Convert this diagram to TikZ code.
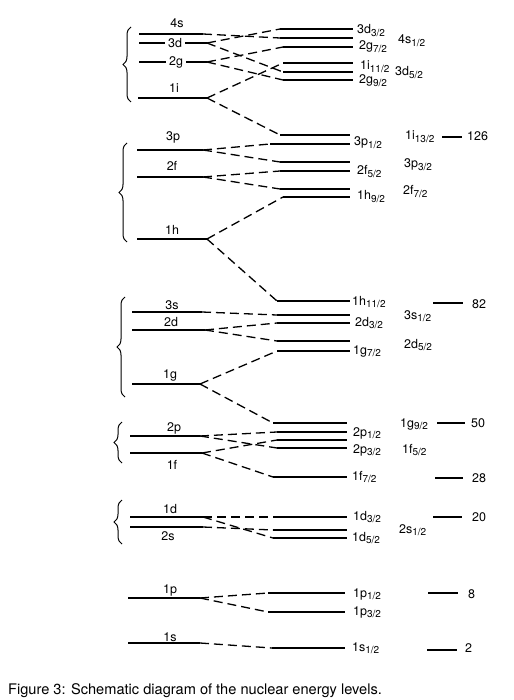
\documentclass[tikz,border=0pt]{standalone}
\usepackage{fontspec}
\setmainfont{TeX Gyre Heros}
\usetikzlibrary{decorations.pathreplacing}
\newcommand\jsub[1]{\raisebox{-2.6pt}{\fontsize{10}{11}\selectfont #1}}
\begin{document}
\begin{tikzpicture}[x=1pt,y=-1pt,
  level/.style={line width=1.5pt},
  split/.style={line width=1.3pt, dash pattern=on 9pt off 5pt},
  grp/.style={line width=1pt, decorate, decoration={brace, amplitude=8pt}},
  orb/.style={font=\fontsize{12.5}{15}\selectfont, inner sep=0pt, anchor=base},
  jlabel/.style={orb, anchor=base west},
  magic/.style={orb, anchor=base west}]
\useasboundingbox (0,0) rectangle (513,700);
% shells without spin-orbit
\draw[level] (139,34) coordinate (a4s) -- (203,34) coordinate (l4s);
\draw[level] (139,43) coordinate (a3d) -- (207,43) coordinate (l3d);
\draw[level] (139,62) coordinate (a2g) -- (207,62) coordinate (l2g);
\draw[level] (138,98) coordinate (a1i) -- (207,98) coordinate (l1i);
\draw[level] (137,150) coordinate (a3p) -- (203,150) coordinate (l3p);
\draw[level] (137,177) coordinate (a2f) -- (203,177) coordinate (l2f);
\draw[level] (137,239) coordinate (a1h) -- (207,239) coordinate (l1h);
\draw[level] (132,312) coordinate (a3s) -- (202,312) coordinate (l3s);
\draw[level] (132,330) coordinate (a2d) -- (205,330) coordinate (l2d);
\draw[level] (132,384) coordinate (a1g) -- (200,384) coordinate (l1g);
\draw[level] (130,436) coordinate (a2p) -- (200,436) coordinate (l2p);
\draw[level] (130,453) coordinate (a1f) -- (202,453) coordinate (l1f);
\draw[level] (130,517) coordinate (a1d) -- (203,517) coordinate (l1d);
\draw[level] (130,527) coordinate (a2s) -- (203,527) coordinate (l2s);
\draw[level] (128,598) coordinate (a1p) -- (200,598) coordinate (l1p);
\draw[level] (128,643) coordinate (a1s) -- (200,643) coordinate (l1s);
\node[orb] (t4s) at (177,28) {4s};
\node[orb, fill=white, inner xsep=3pt, inner ysep=1pt] (t3d) at (175,47.5) {3d};
\node[orb, fill=white, inner xsep=3pt, inner ysep=1pt] (t2g) at (176,65.5) {2g};
\node[orb] (t1i) at (174,93) {1i};
\node[orb] (t3p) at (173,141) {3p};
\node[orb] (t2f) at (172,171) {2f};
\node[orb] (t1h) at (172,235) {1h};
\node[orb] (t3s) at (172,309) {3s};
\node[orb] (t2d) at (171,326) {2d};
\node[orb] (t1g) at (170,378) {1g};
\node[orb] (t2p) at (174,431) {2p};
\node[orb] (t1f) at (172,469) {1f};
\node[orb] (t1d) at (170,513) {1d};
\node[orb] (t2s) at (168,540) {2s};
\node[orb] (t1p) at (170,593) {1p};
\node[orb] (t1s) at (170,641) {1s};
% groups
\draw[grp] (131,102) -- (131,27);
\draw[grp] (127,242) -- (127,143);
\draw[grp] (125,397) -- (125,297);
\draw[grp] (122,463) -- (122,422);
\draw[grp] (122,544) -- (122,500);
% split levels
\draw[level] (280,29) coordinate (r3d3) -- (353,29);
\draw[level] (280,38) coordinate (r4s1) -- (353,38);
\draw[level] (283,47) coordinate (r2g7) -- (353,47);
\draw[level] (283,63) coordinate (r1i11) -- (353,63);
\draw[level] (283,72) coordinate (r3d5) -- (353,72);
\draw[level] (283,80) coordinate (r2g9) -- (353,80);
\draw[level] (280,135) coordinate (r1i13) -- (350,135);
\draw[level] (270,144) coordinate (r3p1) -- (350,144);
\draw[level] (280,162) coordinate (r3p3) -- (350,162);
\draw[level] (280,171) coordinate (r2f5) -- (350,171);
\draw[level] (280,189) coordinate (r2f7) -- (350,189);
\draw[level] (283,197) coordinate (r1h9) -- (350,197);
\draw[level] (277,301) coordinate (r1h11) -- (350,301);
\draw[level] (277,315) coordinate (r3s1) -- (350,315);
\draw[level] (277,323) coordinate (r2d3) -- (350,323);
\draw[level] (277,341) coordinate (r2d5) -- (350,341);
\draw[level] (277,351) coordinate (r1g7) -- (350,351);
\draw[level] (273,423) coordinate (r1g9) -- (347,423);
\draw[level] (277,432) coordinate (r2p1) -- (347,432);
\draw[level] (277,440) coordinate (r1f5) -- (347,440);
\draw[level] (277,448) coordinate (r2p3) -- (347,448);
\draw[level] (273,477) coordinate (r1f7) -- (347,477);
\draw[level] (273,517) coordinate (r1d3) -- (347,517);
\draw[level] (273,530) coordinate (r2s1) -- (347,530);
\draw[level] (273,538) coordinate (r1d5) -- (347,538);
\draw[level] (268,593) coordinate (r1p1) -- (345,593);
\draw[level] (268,612) coordinate (r1p3) -- (345,612);
\draw[level] (272,648) coordinate (r1s1) -- (345,648);
\node[jlabel] (s3d3) at (357,34) {3d\jsub{3/2}};
\node[jlabel] (s4s1) at (398,44) {4s\jsub{1/2}};
\node[jlabel] (s2g7) at (359,50) {2g\jsub{7/2}};
\node[jlabel] (s1i11) at (360,70) {1i\jsub{11/2}};
\node[jlabel] (s3d5) at (395,76) {3d\jsub{5/2}};
\node[jlabel] (s2g9) at (359,84) {2g\jsub{9/2}};
\node[jlabel] (s1i13) at (405,140) {1i\jsub{13/2}};
\node[jlabel] (s3p1) at (354,146) {3p\jsub{1/2}};
\node[jlabel] (s3p3) at (404,168) {3p\jsub{3/2}};
\node[jlabel] (s2f5) at (357,175) {2f\jsub{5/2}};
\node[jlabel] (s2f7) at (403,195) {2f\jsub{7/2}};
\node[jlabel] (s1h9) at (357,200) {1h\jsub{9/2}};
\node[jlabel] (s1h11) at (352,305) {1h\jsub{11/2}};
\node[jlabel] (s3s1) at (404,319) {3s\jsub{1/2}};
\node[jlabel] (s2d3) at (355,326) {2d\jsub{3/2}};
\node[jlabel] (s2d5) at (404,348) {2d\jsub{5/2}};
\node[jlabel] (s1g7) at (353,354) {1g\jsub{7/2}};
\node[jlabel] (s1g9) at (400,427) {1g\jsub{9/2}};
\node[jlabel] (s2p1) at (353,436) {2p\jsub{1/2}};
\node[jlabel] (s1f5) at (402,453) {1f\jsub{5/2}};
\node[jlabel] (s2p3) at (353,453) {2p\jsub{3/2}};
\node[jlabel] (s1f7) at (352,480) {1f\jsub{7/2}};
\node[jlabel] (s1d3) at (353,520) {1d\jsub{3/2}};
\node[jlabel] (s2s1) at (399,533) {2s\jsub{1/2}};
\node[jlabel] (s1d5) at (352,541) {1d\jsub{5/2}};
\node[jlabel] (s1p1) at (353,597) {1p\jsub{1/2}};
\node[jlabel] (s1p3) at (353,615) {1p\jsub{3/2}};
\node[jlabel] (s1s1) at (352,651) {1s\jsub{1/2}};
% splitting
\draw[split] (l4s) -- (r4s1);
\draw[split] (l3d) -- (r3d3);
\draw[split] (l3d) -- (r3d5);
\draw[split] (l2g) -- (r2g7);
\draw[split] (l2g) -- (r2g9);
\draw[split] (l1i) -- (r1i11);
\draw[split] (l1i) -- (r1i13);
\draw[split] (l3p) -- (r3p1);
\draw[split] (l3p) -- (r3p3);
\draw[split] (l2f) -- (r2f5);
\draw[split] (l2f) -- (r2f7);
\draw[split] (l1h) -- (r1h9);
\draw[split] (l1h) -- (r1h11);
\draw[split] (l3s) -- (r3s1);
\draw[split] (l2d) -- (r2d3);
\draw[split] (l2d) -- (r2d5);
\draw[split] (l1g) -- (r1g7);
\draw[split] (l1g) -- (r1g9);
\draw[split] (l2p) -- (r2p1);
\draw[split] (l2p) -- (r2p3);
\draw[split] (l1f) -- (r1f5);
\draw[split] (l1f) -- (r1f7);
\draw[split] (l1d) -- (r1d3);
\draw[split] (l1d) -- (r1d5);
\draw[split] (l2s) -- (r2s1);
\draw[split] (l1p) -- (r1p1);
\draw[split] (l1p) -- (r1p3);
\draw[split] (l1s) -- (r1s1);
% magic numbers
\draw[level] (442,137) -- (462,137);
\draw[level] (433,303) -- (463,303);
\draw[level] (437,423) -- (465,423);
\draw[level] (435,478) -- (463,478);
\draw[level] (433,517) -- (462,517);
\draw[level] (428,593) -- (458,593);
\draw[level] (427,650) -- (457,650);
\node[magic] (m126) at (467,141) {126};
\node[magic] (m82) at (472,308) {82};
\node[magic] (m50) at (471,427) {50};
\node[magic] (m28) at (472,482) {28};
\node[magic] (m20) at (472,521) {20};
\node[magic] (m8) at (468,598) {8};
\node[magic] (m2) at (465,652) {2};
% caption
\node[anchor=base west, inner sep=0pt, font=\fontsize{14.6}{17}\selectfont] (cap) at (8,694)
  {Figure 3: Schematic diagram of the nuclear energy levels.};
\end{tikzpicture}
\end{document}
